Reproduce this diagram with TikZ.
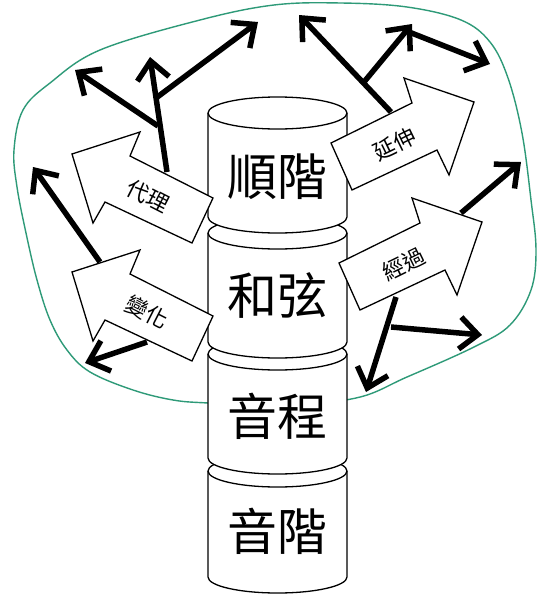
\documentclass[tikz,border=0pt]{standalone}
\usepackage{fontspec}
\newfontfamily\cjk{Noto Sans CJK TC}
\usetikzlibrary{arrows.meta}
\definecolor{blobgreen}{HTML}{2E9A78}
\tikzset{
  blob/.style={draw=blobgreen, line width=1.4pt},
  thickarrow/.style={line width=5.5pt, -{Straight Barb[length=18pt,width=32pt]}},
  thickline/.style={line width=5.5pt},
  blockarrow/.style={draw=black, fill=white, line width=1.3pt, line join=miter},
  cylbody/.style={draw=black, fill=white, line width=1.3pt},
  cyltext/.style={font=\cjk\fontsize{50pt}{50pt}\selectfont, inner sep=0pt},
  arrowtext/.style={font=\cjk\fontsize{22pt}{22pt}\selectfont, inner sep=0pt}
}
\newcommand{\cylinderat}[2]{%
  \filldraw[cylbody] (208,#1) -- (208,#2) arc[start angle=180,end angle=360,x radius=69.5pt,y radius=16pt]
     -- (347,#1) arc[start angle=0,end angle=180,x radius=69.5pt,y radius=16pt] -- cycle;
  \draw[cylbody, fill=none] (208,#1) arc[start angle=180,end angle=360,x radius=69.5pt,y radius=16pt];
}
\begin{document}
\begin{tikzpicture}[x=1pt,y=-1pt]
\useasboundingbox (0,0) rectangle (548,600);
\fill[white] (0,0) rectangle (548,600);

% green region
\draw[blob] plot[smooth cycle, tension=0.6] coordinates {
  (274,5) (341,3) (407,7) (461,20) (490,42) (508,78) (522,133) (531,200)
  (536,250) (531,290) (510,325) (474,347) (407,377) (356,398) (277,406)
  (208,403) (173,400) (133,390) (90,372) (67,350) (50,320) (37,280)
  (26,233) (17,187) (14,150) (23,110) (50,83) (100,50) (200,20)};

% thick arrows
\coordinate (a1s) at (167,172);
\coordinate (a1t) at (150,57);
\coordinate (a1j) at (158,126);
\coordinate (a1l) at (75,70);
\coordinate (a1k) at (156,98);
\coordinate (a1r) at (258,22);
\coordinate (a2s) at (100,262);
\coordinate (a2t) at (33,167);
\coordinate (a3s) at (147,342);
\coordinate (a3t) at (85,363);
\coordinate (a4s) at (391,112);
\coordinate (a4t) at (299,15);
\coordinate (a4j) at (364,82);
\coordinate (a4u) at (412,24);
\coordinate (a4k) at (409,32);
\coordinate (a4r) at (490,64);
\coordinate (a5s) at (461,213);
\coordinate (a5t) at (521,162);
\coordinate (a6s) at (396,297);
\coordinate (a6t) at (366,392);
\coordinate (a6j) at (391,327);
\coordinate (a6r) at (482,335);

\draw[thickarrow] (a1s) -- (a1t);
\draw[thickarrow] (a1j) -- (a1l);
\draw[thickarrow] (a1k) -- (a1r);
\draw[thickarrow] (a2s) -- (a2t);
\draw[thickarrow] (a3s) -- (a3t);
\draw[thickarrow] (a4s) -- (a4t);
\draw[thickarrow] (a4j) -- (a4u);
\draw[thickarrow] (a4k) -- (a4r);
\draw[thickarrow] (a5s) -- (a5t);
\draw[thickarrow] (a6s) -- (a6t);
\draw[thickarrow] (a6j) -- (a6r);

% cylinders (bottom first)
\cylinderat{471}{577}
\cylinderat{354}{458}
\cylinderat{233}{342}
\cylinderat{113}{217}
\node[cyltext] (c1) at (277.5,177) {順階};
\node[cyltext] (c2) at (277.5,295) {和弦};
\node[cyltext] (c3) at (277.5,416) {音程};
\node[cyltext] (c4) at (277.5,531) {音階};

% block arrows
\draw[blockarrow] (72,154) -- (140,132) -- (130,156) -- (213,198) -- (192,243) -- (105,202) -- (93,223) -- cycle;
\node[arrowtext, rotate=-27] (b1) at (148,196) {代理};
\draw[blockarrow] (72,272) -- (140,250) -- (130,274) -- (213,316) -- (192,361) -- (105,320) -- (93,341) -- cycle;
\node[arrowtext, rotate=-27] (b2) at (147,312) {變化};
\draw[blockarrow] (331,143) -- (412,103) -- (404,78) -- (474,102) -- (449,175) -- (437,150) -- (352,190) -- cycle;
\node[arrowtext, rotate=26] (b3) at (395,144) {延伸};
\draw[blockarrow] (339,263) -- (420,223) -- (412,198) -- (482,222) -- (457,295) -- (445,270) -- (360,310) -- cycle;
\node[arrowtext, rotate=26] (b4) at (404,264) {經過};
\end{tikzpicture}
\end{document}
